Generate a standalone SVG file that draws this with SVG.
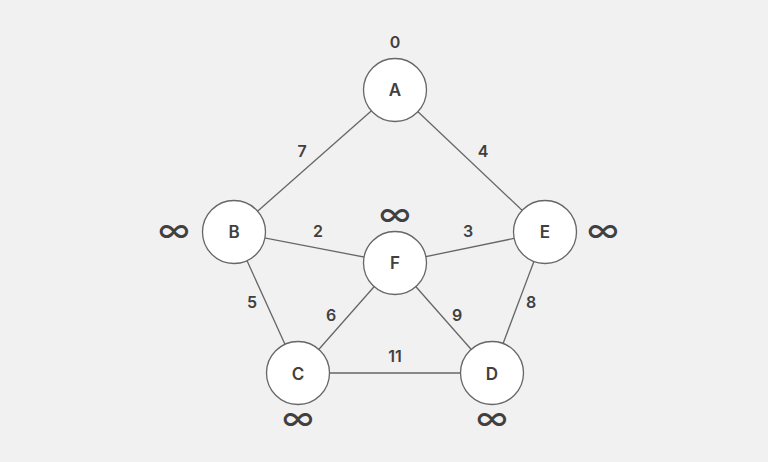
<svg xmlns="http://www.w3.org/2000/svg" width="768" height="462" viewBox="0 0 768 462">
<style>
.n{fill:#fff;stroke:#666;stroke-width:1.3}
.e{stroke:#666;stroke-width:1.3;fill:none}
.t{font-family:Inter,"Liberation Sans",sans-serif;font-weight:600;fill:#404040;text-anchor:middle;dominant-baseline:central}
.l{font-size:17px}
.w{font-size:16px}
.i{font-size:34px;font-weight:400}
</style>
<rect width="768" height="462" fill="#f1f1f1"/>
<g id="edges">
<line class="e" x1="395" y1="90" x2="234" y2="232"/>
<line class="e" x1="395" y1="90" x2="545" y2="232"/>
<line class="e" x1="234" y1="232" x2="395" y2="263"/>
<line class="e" x1="545" y1="232" x2="395" y2="263"/>
<line class="e" x1="234" y1="232" x2="298" y2="373"/>
<line class="e" x1="545" y1="232" x2="492" y2="373"/>
<line class="e" x1="395" y1="263" x2="298" y2="373"/>
<line class="e" x1="395" y1="263" x2="492" y2="373"/>
<line class="e" x1="298" y1="373" x2="492" y2="373"/>
</g>
<g id="edge-labels">
<text class="t w" x="302" y="151">7</text>
<text class="t w" x="483" y="151">4</text>
<text class="t w" x="318" y="231">2</text>
<text class="t w" x="468" y="231">3</text>
<text class="t w" x="252" y="302">5</text>
<text class="t w" x="331" y="315">6</text>
<text class="t w" x="457" y="315">9</text>
<text class="t w" x="531" y="302">8</text>
<text class="t w" x="395" y="356">11</text>
</g>
<g id="A"><circle class="n" cx="395" cy="90" r="31.5"/><text class="t l" x="395" y="90">A</text><text class="t w" x="395" y="42">0</text></g>
<g id="B"><circle class="n" cx="234" cy="232" r="31.5"/><text class="t l" x="234" y="232">B</text><text class="t i" x="174" y="229">∞</text></g>
<g id="E"><circle class="n" cx="545" cy="232" r="31.5"/><text class="t l" x="545" y="232">E</text><text class="t i" x="603" y="229">∞</text></g>
<g id="F"><circle class="n" cx="395" cy="263" r="31.5"/><text class="t l" x="395" y="263">F</text><text class="t i" x="395" y="213">∞</text></g>
<g id="C"><circle class="n" cx="298" cy="373" r="31.5"/><text class="t l" x="298" y="374">C</text><text class="t i" x="298" y="417">∞</text></g>
<g id="D"><circle class="n" cx="492" cy="373" r="31.5"/><text class="t l" x="492" y="374">D</text><text class="t i" x="492" y="417">∞</text></g>
</svg>
